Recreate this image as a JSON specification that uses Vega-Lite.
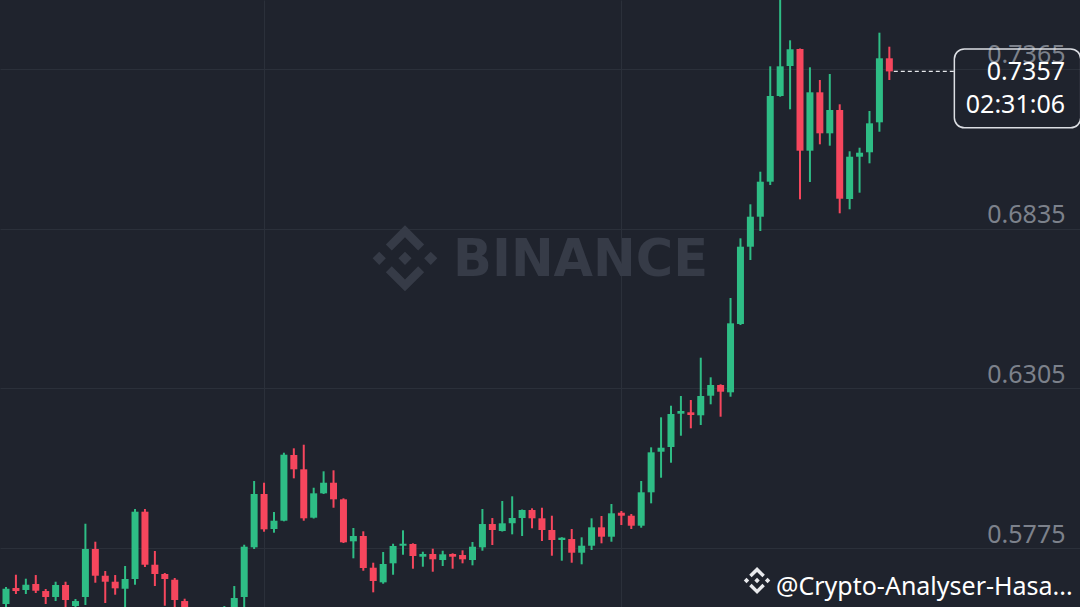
{
  "$schema": "https://vega.github.io/schema/vega-lite/v6.json",
  "width": 1080,
  "height": 607,
  "autosize": {"type": "none"},
  "padding": 0,
  "background": "#1f232d",
  "config": {"view": {"stroke": null}},
  "data": {"values": [
    {"i":0,"o":0.55891,"h":0.56455,"l":0.55692,"c":0.56399},
    {"i":1,"o":0.56422,"h":0.56863,"l":0.56223,"c":0.56322},
    {"i":2,"o":0.56356,"h":0.56731,"l":0.56223,"c":0.56531},
    {"i":3,"o":0.56555,"h":0.56853,"l":0.56256,"c":0.56332},
    {"i":4,"o":0.56322,"h":0.56389,"l":0.55891,"c":0.56123},
    {"i":5,"o":0.56123,"h":0.56631,"l":0.55990,"c":0.56522},
    {"i":6,"o":0.56522,"h":0.56631,"l":0.55791,"c":0.56024},
    {"i":7,"o":0.55824,"h":0.56057,"l":0.55625,"c":0.55990},
    {"i":8,"o":0.56123,"h":0.58556,"l":0.55858,"c":0.57717},
    {"i":9,"o":0.57717,"h":0.57959,"l":0.56598,"c":0.56830},
    {"i":10,"o":0.56830,"h":0.56986,"l":0.55924,"c":0.56631},
    {"i":11,"o":0.56631,"h":0.56853,"l":0.56200,"c":0.56412},
    {"i":12,"o":0.56399,"h":0.57152,"l":0.55692,"c":0.56721},
    {"i":13,"o":0.56721,"h":0.59044,"l":0.56531,"c":0.58955},
    {"i":14,"o":0.58955,"h":0.59044,"l":0.57119,"c":0.57195},
    {"i":15,"o":0.57195,"h":0.57650,"l":0.56488,"c":0.56887},
    {"i":16,"o":0.56887,"h":0.56920,"l":0.55834,"c":0.56721},
    {"i":17,"o":0.56697,"h":0.56754,"l":0.55692,"c":0.56024},
    {"i":18,"o":0.55990,"h":0.56067,"l":0.55625,"c":0.55758},
    {"i":19,"o":0.55625,"h":0.55725,"l":0.55293,"c":0.55426},
    {"i":20,"o":0.55360,"h":0.55692,"l":0.55227,"c":0.55559},
    {"i":21,"o":0.55559,"h":0.55725,"l":0.55293,"c":0.55459},
    {"i":22,"o":0.55526,"h":0.55824,"l":0.55360,"c":0.55692},
    {"i":23,"o":0.55625,"h":0.56488,"l":0.55526,"c":0.56090},
    {"i":24,"o":0.56123,"h":0.57859,"l":0.55791,"c":0.57793},
    {"i":25,"o":0.57773,"h":0.59974,"l":0.57717,"c":0.59542},
    {"i":26,"o":0.59542,"h":0.59917,"l":0.58291,"c":0.58370},
    {"i":27,"o":0.58380,"h":0.58945,"l":0.58258,"c":0.58656},
    {"i":28,"o":0.58656,"h":0.60913,"l":0.58636,"c":0.60847},
    {"i":29,"o":0.60837,"h":0.61059,"l":0.60063,"c":0.60362},
    {"i":30,"o":0.60362,"h":0.61179,"l":0.58656,"c":0.58736},
    {"i":31,"o":0.58756,"h":0.59751,"l":0.58729,"c":0.59565},
    {"i":32,"o":0.59565,"h":0.60296,"l":0.59542,"c":0.59917},
    {"i":33,"o":0.59917,"h":0.60329,"l":0.59087,"c":0.59366},
    {"i":34,"o":0.59366,"h":0.59399,"l":0.57916,"c":0.57939},
    {"i":35,"o":0.57972,"h":0.58414,"l":0.57408,"c":0.58148},
    {"i":36,"o":0.58148,"h":0.58304,"l":0.56996,"c":0.57086},
    {"i":37,"o":0.57096,"h":0.57262,"l":0.56279,"c":0.56654},
    {"i":38,"o":0.56611,"h":0.57617,"l":0.56565,"c":0.57219},
    {"i":39,"o":0.57242,"h":0.57892,"l":0.56863,"c":0.57816},
    {"i":40,"o":0.57826,"h":0.58337,"l":0.57527,"c":0.57892},
    {"i":41,"o":0.57883,"h":0.57906,"l":0.57063,"c":0.57484},
    {"i":42,"o":0.57461,"h":0.57627,"l":0.57129,"c":0.57551},
    {"i":43,"o":0.57551,"h":0.57727,"l":0.56963,"c":0.57375},
    {"i":44,"o":0.57351,"h":0.57660,"l":0.57152,"c":0.57541},
    {"i":45,"o":0.57551,"h":0.57574,"l":0.57063,"c":0.57461},
    {"i":46,"o":0.57517,"h":0.57673,"l":0.57242,"c":0.57375},
    {"i":47,"o":0.57351,"h":0.57949,"l":0.57175,"c":0.57793},
    {"i":48,"o":0.57773,"h":0.59044,"l":0.57660,"c":0.58546},
    {"i":49,"o":0.58546,"h":0.58745,"l":0.57849,"c":0.58347},
    {"i":50,"o":0.58314,"h":0.59310,"l":0.58297,"c":0.58570},
    {"i":51,"o":0.58570,"h":0.59466,"l":0.58204,"c":0.58745},
    {"i":52,"o":0.58745,"h":0.59028,"l":0.58148,"c":0.59011},
    {"i":53,"o":0.59011,"h":0.59068,"l":0.58404,"c":0.58736},
    {"i":54,"o":0.58736,"h":0.59087,"l":0.57982,"c":0.58347},
    {"i":55,"o":0.58347,"h":0.58822,"l":0.57494,"c":0.58015},
    {"i":56,"o":0.58015,"h":0.58108,"l":0.57328,"c":0.58092},
    {"i":57,"o":0.58048,"h":0.58380,"l":0.57262,"c":0.57594},
    {"i":58,"o":0.57594,"h":0.58105,"l":0.57209,"c":0.57826},
    {"i":59,"o":0.57826,"h":0.58736,"l":0.57683,"c":0.58437},
    {"i":60,"o":0.58437,"h":0.58812,"l":0.57906,"c":0.58125},
    {"i":61,"o":0.58125,"h":0.59210,"l":0.57959,"c":0.58902},
    {"i":62,"o":0.58922,"h":0.58978,"l":0.58513,"c":0.58822},
    {"i":63,"o":0.58822,"h":0.58878,"l":0.58380,"c":0.58490},
    {"i":64,"o":0.58490,"h":0.59974,"l":0.58424,"c":0.59599},
    {"i":65,"o":0.59599,"h":0.61092,"l":0.59233,"c":0.60926},
    {"i":66,"o":0.60946,"h":0.62088,"l":0.60083,"c":0.61079},
    {"i":67,"o":0.61102,"h":0.62473,"l":0.60581,"c":0.62198},
    {"i":68,"o":0.62208,"h":0.62795,"l":0.61477,"c":0.62297},
    {"i":69,"o":0.62254,"h":0.62662,"l":0.61723,"c":0.62165},
    {"i":70,"o":0.62155,"h":0.64067,"l":0.61833,"c":0.62795},
    {"i":71,"o":0.62805,"h":0.63416,"l":0.62520,"c":0.63160},
    {"i":72,"o":0.63160,"h":0.63184,"l":0.62108,"c":0.62938},
    {"i":73,"o":0.62918,"h":0.66048,"l":0.62772,"c":0.65208},
    {"i":74,"o":0.65185,"h":0.68030,"l":0.65152,"c":0.67751},
    {"i":75,"o":0.67751,"h":0.69159,"l":0.67310,"c":0.68747},
    {"i":76,"o":0.68747,"h":0.70241,"l":0.68272,"c":0.69909},
    {"i":77,"o":0.69909,"h":0.73739,"l":0.69799,"c":0.72753},
    {"i":78,"o":0.72753,"h":0.76040,"l":0.72730,"c":0.73739},
    {"i":79,"o":0.73749,"h":0.74602,"l":0.72312,"c":0.74304},
    {"i":80,"o":0.74314,"h":0.74330,"l":0.69324,"c":0.70938},
    {"i":81,"o":0.70938,"h":0.73706,"l":0.69899,"c":0.72876},
    {"i":82,"o":0.72876,"h":0.73285,"l":0.71150,"c":0.71515},
    {"i":83,"o":0.71515,"h":0.73484,"l":0.71104,"c":0.72289},
    {"i":84,"o":0.72289,"h":0.72478,"l":0.68860,"c":0.69344},
    {"i":85,"o":0.69334,"h":0.70918,"l":0.68993,"c":0.70738},
    {"i":86,"o":0.70738,"h":0.71037,"l":0.69544,"c":0.70871},
    {"i":87,"o":0.70885,"h":0.72256,"l":0.70519,"c":0.71847},
    {"i":88,"o":0.71880,"h":0.74855,"l":0.71568,"c":0.74005},
    {"i":89,"o":0.74005,"h":0.74390,"l":0.73285,"c":0.7357}
  ]},
  "resolve": {"scale": {"x": "shared", "y": "shared"}},
  "layer": [
    {
      "data": {"values": [{}]},
      "mark": {"type": "text", "font": "DejaVu Sans", "fontWeight": "bold", "fontSize": 51, "align": "left", "baseline": "alphabetic", "color": "#363b47"},
      "encoding": {
        "x": {"datum": 45.04, "type": "quantitative", "scale": {"domain": [-0.6045, 108.21], "nice": false, "zero": false, "padding": 0}, "axis": {"values": [26, 62], "grid": true, "gridColor": "#2b303a", "gridWidth": 1, "labels": false, "ticks": false, "domain": false, "title": null}},
        "y": {"datum": 0.66788, "type": "quantitative", "scale": {"domain": [0.55792, 0.7594], "nice": false, "zero": false, "padding": 0}, "axis": {"orient": "right", "values": [0.5775, 0.6305, 0.6835, 0.7365], "format": ".4f", "grid": true, "gridColor": "#2b303a", "gridWidth": 1, "ticks": false, "tickSize": 0, "domain": false, "title": null, "labelAlign": "right", "labelPadding": -15, "labelBaseline": "alphabetic", "labelOffset": -6, "labelFont": "Noto Sans", "labelFontSize": 25, "labelColor": "#7c818b"}},
        "text": {"value": "BINANCE"}
      }
    },
    {
      "data": {"values": [{}]},
      "mark": {"type": "point", "filled": true, "opacity": 1, "color": "#363b47", "size": 4356, "shape": "M0,-1L0.58,-0.42L0.4,-0.24L0,-0.64L-0.4,-0.24L-0.58,-0.42Z M0,1L0.58,0.42L0.4,0.24L0,0.64L-0.4,0.24L-0.58,0.42Z M0,-0.2L0.2,0L0,0.2L-0.2,0Z M-0.78,-0.2L-0.58,0L-0.78,0.2L-0.98,0Z M0.78,-0.2L0.98,0L0.78,0.2L0.58,0Z"},
      "encoding": {
        "x": {"datum": 40.2, "type": "quantitative"},
        "y": {"datum": 0.67366, "type": "quantitative"}
      }
    },
    {
      "mark": {"type": "rule", "strokeWidth": 2},
      "encoding": {
        "x": {"field": "i", "type": "quantitative"},
        "y": {"field": "l", "type": "quantitative"},
        "y2": {"field": "h"},
        "color": {"condition": {"test": "datum.c >= datum.o", "value": "#2ebd85"}, "value": "#f6465d"}
      }
    },
    {
      "mark": {"type": "bar", "size": 7},
      "encoding": {
        "x": {"field": "i", "type": "quantitative"},
        "y": {"field": "o", "type": "quantitative"},
        "y2": {"field": "c"},
        "color": {"condition": {"test": "datum.c >= datum.o", "value": "#2ebd85"}, "value": "#f6465d"}
      }
    },
    {
      "data": {"values": [{}]},
      "mark": {"type": "rule", "color": "#e6e8ec", "strokeWidth": 1.3, "strokeDash": [4, 3]},
      "encoding": {
        "x": {"datum": 89.45, "type": "quantitative"},
        "x2": {"datum": 95.55},
        "y": {"datum": 0.7357, "type": "quantitative"}
      }
    },
    {
      "data": {"values": [{}]},
      "mark": {"type": "rect", "fill": "transparent", "stroke": "#dcdee3", "strokeWidth": 1.5, "cornerRadius": 10},
      "encoding": {
        "x": {"datum": 95.55, "type": "quantitative"},
        "x2": {"datum": 108.28},
        "y": {"datum": 0.74315, "type": "quantitative"},
        "y2": {"datum": 0.71697}
      }
    },
    {
      "data": {"values": [{}]},
      "mark": {"type": "text", "font": "Noto Sans", "fontSize": 25, "align": "right", "baseline": "alphabetic", "color": "#ffffff"},
      "encoding": {
        "x": {"datum": 106.7, "type": "quantitative"},
        "y": {"datum": 0.73285, "type": "quantitative"},
        "text": {"value": "0.7357"}
      }
    },
    {
      "data": {"values": [{}]},
      "mark": {"type": "text", "font": "Noto Sans", "fontSize": 25, "align": "right", "baseline": "alphabetic", "color": "#ffffff"},
      "encoding": {
        "x": {"datum": 106.7, "type": "quantitative"},
        "y": {"datum": 0.72179, "type": "quantitative"},
        "text": {"value": "02:31:06"}
      }
    },
    {
      "data": {"values": [{}]},
      "mark": {"type": "point", "filled": true, "opacity": 1, "color": "#e8e9ec", "size": 729, "shape": "M0,-1L0.58,-0.42L0.4,-0.24L0,-0.64L-0.4,-0.24L-0.58,-0.42Z M0,1L0.58,0.42L0.4,0.24L0,0.64L-0.4,0.24L-0.58,0.42Z M0,-0.2L0.2,0L0,0.2L-0.2,0Z M-0.78,-0.2L-0.58,0L-0.78,0.2L-0.98,0Z M0.78,-0.2L0.98,0L0.78,0.2L0.58,0Z"},
      "encoding": {
        "x": {"datum": 75.67, "type": "quantitative"},
        "y": {"datum": 0.56671, "type": "quantitative"}
      }
    },
    {
      "data": {"values": [{}]},
      "mark": {"type": "text", "font": "Noto Sans", "fontSize": 25, "align": "left", "baseline": "alphabetic", "color": "#ffffff"},
      "encoding": {
        "x": {"datum": 77.58, "type": "quantitative"},
        "y": {"datum": 0.5619, "type": "quantitative"},
        "text": {"value": "@Crypto-Analyser-Hasa..."}
      }
    }
  ]
}
